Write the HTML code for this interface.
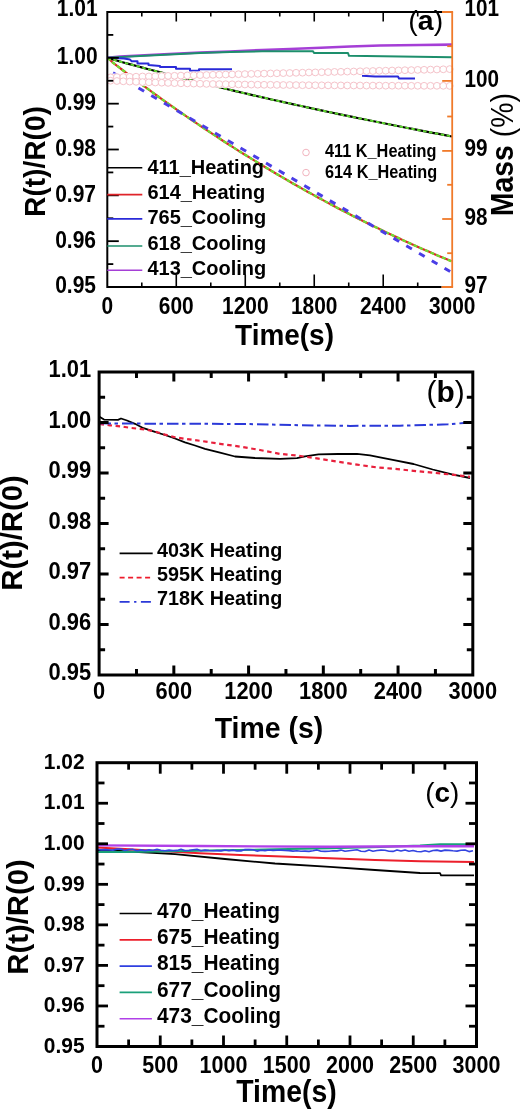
<!DOCTYPE html>
<html><head><meta charset="utf-8"><title>R(t)/R(0) vs Time</title>
<style>html,body{margin:0;padding:0;background:#fff;width:520px;height:1110px;overflow:hidden}svg{display:block}</style>
</head><body>
<svg width="520" height="1110" viewBox="0 0 520 1110" font-family='"Liberation Sans", Arial, Helvetica, sans-serif'>
<rect width="520" height="1110" fill="#fff"/>
<polyline points="107.5,57.8 120.0,56.5 169.0,54.0 200.0,52.5 230.0,51.5 262.0,50.0 290.0,49.0 321.0,47.8 350.0,46.5 380.0,45.5 420.0,45.0 452.0,44.6" fill="none" stroke="#a53fd6" stroke-width="2.6" stroke-linejoin="round" />
<polyline points="107.5,57.8 140.0,56.0 170.0,54.5 200.0,53.0 230.0,52.0 262.0,51.3 313.0,51.3 314.0,53.0 348.0,53.0 349.0,55.8 400.0,56.5 452.0,57.3" fill="none" stroke="#1d8f6c" stroke-width="2" stroke-linejoin="round" />
<polyline points="107.5,57.8 124.0,58.5 130.0,59.6 131.7,61.3 137.5,61.3 137.5,63.4 148.5,63.4 148.5,65.1 160.0,66.0 160.0,66.9 176.0,66.9 176.0,68.8 190.0,68.8 190.0,70.8 199.0,70.8 199.0,69.2 232.0,69.2" fill="none" stroke="#2a2ad8" stroke-width="2" stroke-linejoin="round" />
<polyline points="362.0,75.8 375.0,76.5 398.0,76.5 399.0,78.5 415.0,78.5" fill="none" stroke="#2a2ad8" stroke-width="2" stroke-linejoin="round" />
<polyline points="107.5,58.0 112.5,59.4 117.5,60.8 122.5,62.2 127.5,63.6 132.5,64.9 137.5,66.3 142.5,67.6 147.5,69.0 152.5,70.3 157.5,71.6 162.5,72.9 167.5,74.2 172.5,75.5 177.5,76.8 182.5,78.1 187.5,79.4 192.5,80.6 197.5,81.9 202.5,83.1 207.5,84.3 212.5,85.6 217.5,86.8 222.5,88.0 227.5,89.2 232.5,90.4 237.5,91.6 242.5,92.8 247.5,93.9 252.5,95.1 257.5,96.2 262.5,97.4 267.5,98.5 272.5,99.7 277.5,100.8 282.5,101.9 287.5,103.0 292.5,104.1 297.5,105.2 302.5,106.3 307.5,107.4 312.5,108.5 317.5,109.6 322.5,110.6 327.5,111.7 332.5,112.8 337.5,113.8 342.5,114.9 347.5,115.9 352.5,116.9 357.5,118.0 362.5,119.0 367.5,120.0 372.5,121.0 377.5,122.0 382.5,123.0 387.5,124.0 392.5,125.0 397.5,126.0 402.5,127.0 407.5,128.0 412.5,128.9 417.5,129.9 422.5,130.9 427.5,131.8 432.5,132.8 437.5,133.7 442.5,134.7 447.5,135.6 452.0,136.5" fill="none" stroke="#000" stroke-width="2.2" stroke-linejoin="round" />
<polyline points="107.5,58.0 112.5,59.4 117.5,60.8 122.5,62.2 127.5,63.6 132.5,64.9 137.5,66.3 142.5,67.6 147.5,69.0 152.5,70.3 157.5,71.6 162.5,72.9 167.5,74.2 172.5,75.5 177.5,76.8 182.5,78.1 187.5,79.4 192.5,80.6 197.5,81.9 202.5,83.1 207.5,84.3 212.5,85.6 217.5,86.8 222.5,88.0 227.5,89.2 232.5,90.4 237.5,91.6 242.5,92.8 247.5,93.9 252.5,95.1 257.5,96.2 262.5,97.4 267.5,98.5 272.5,99.7 277.5,100.8 282.5,101.9 287.5,103.0 292.5,104.1 297.5,105.2 302.5,106.3 307.5,107.4 312.5,108.5 317.5,109.6 322.5,110.6 327.5,111.7 332.5,112.8 337.5,113.8 342.5,114.9 347.5,115.9 352.5,116.9 357.5,118.0 362.5,119.0 367.5,120.0 372.5,121.0 377.5,122.0 382.5,123.0 387.5,124.0 392.5,125.0 397.5,126.0 402.5,127.0 407.5,128.0 412.5,128.9 417.5,129.9 422.5,130.9 427.5,131.8 432.5,132.8 437.5,133.7 442.5,134.7 447.5,135.6 452.0,136.5" fill="none" stroke="#5ed62e" stroke-width="2" stroke-linejoin="round" stroke-dasharray="3.5 2.5"/>
<polyline points="107.5,57.8 112.5,62.3 117.5,66.2 122.5,70.0 127.5,73.8 132.5,77.6 137.5,81.3 142.5,85.0 147.5,88.7 152.5,92.3 157.5,96.0 162.5,99.6 167.5,103.1 172.5,106.7 177.5,110.2 182.5,113.6 187.5,117.1 192.5,120.5 197.5,123.9 202.5,127.3 207.5,130.6 212.5,133.9 217.5,137.2 222.5,140.5 227.5,143.7 232.5,146.9 237.5,150.1 242.5,153.2 247.5,156.3 252.5,159.4 257.5,162.5 262.5,165.5 267.5,168.5 272.5,171.5 277.5,174.5 282.5,177.4 287.5,180.3 292.5,183.2 297.5,186.0 302.5,188.9 307.5,191.7 312.5,194.4 317.5,197.2 322.5,199.9 327.5,202.6 332.5,205.3 337.5,207.9 342.5,210.5 347.5,213.1 352.5,215.7 357.5,218.2 362.5,220.7 367.5,223.2 372.5,225.7 377.5,228.1 382.5,230.5 387.5,232.9 392.5,235.3 397.5,237.6 402.5,239.9 407.5,242.2 412.5,244.5 417.5,246.7 422.5,248.9 427.5,251.1 432.5,253.3 437.5,255.4 442.5,257.5 447.5,259.6 451.5,261.3" fill="none" stroke="#e0242a" stroke-width="2.2" stroke-linejoin="round" />
<polyline points="107.5,57.8 112.5,62.3 117.5,66.2 122.5,70.0 127.5,73.8 132.5,77.6 137.5,81.3 142.5,85.0 147.5,88.7 152.5,92.3 157.5,96.0 162.5,99.6 167.5,103.1 172.5,106.7 177.5,110.2 182.5,113.6 187.5,117.1 192.5,120.5 197.5,123.9 202.5,127.3 207.5,130.6 212.5,133.9 217.5,137.2 222.5,140.5 227.5,143.7 232.5,146.9 237.5,150.1 242.5,153.2 247.5,156.3 252.5,159.4 257.5,162.5 262.5,165.5 267.5,168.5 272.5,171.5 277.5,174.5 282.5,177.4 287.5,180.3 292.5,183.2 297.5,186.0 302.5,188.9 307.5,191.7 312.5,194.4 317.5,197.2 322.5,199.9 327.5,202.6 332.5,205.3 337.5,207.9 342.5,210.5 347.5,213.1 352.5,215.7 357.5,218.2 362.5,220.7 367.5,223.2 372.5,225.7 377.5,228.1 382.5,230.5 387.5,232.9 392.5,235.3 397.5,237.6 402.5,239.9 407.5,242.2 412.5,244.5 417.5,246.7 422.5,248.9 427.5,251.1 432.5,253.3 437.5,255.4 442.5,257.5 447.5,259.6 451.5,261.3" fill="none" stroke="#6ee030" stroke-width="2.2" stroke-linejoin="round" stroke-dasharray="4 2.2"/>
<line x1="113.00" y1="72.90" x2="452.00" y2="272.60" stroke="#4a3ee6" stroke-width="3" stroke-dasharray="6.5 8.3"/>
<polyline points="110.5,77.3 116.9,77.1 123.3,77.0 129.7,76.8 136.1,76.7 142.5,76.5 148.9,76.4 155.3,76.2 161.7,76.1 168.1,75.9 174.5,75.8 180.9,75.6 187.3,75.4 193.7,75.3 200.1,75.1 206.5,75.0 212.9,74.8 219.3,74.7 225.7,74.5 232.1,74.4 238.5,74.2 244.9,74.1 251.3,73.9 257.7,73.8 264.1,73.6 270.5,73.4 276.9,73.3 283.3,73.1 289.7,73.0 296.1,72.8 302.5,72.7 308.9,72.5 315.3,72.4 321.7,72.2 328.1,72.1 334.5,71.9 340.9,71.8 347.3,71.6 353.7,71.5 360.1,71.3 366.5,71.1 372.9,71.0 379.3,70.8 385.7,70.7 392.1,70.5 398.5,70.4 404.9,70.2 411.3,70.1 417.7,69.9 424.1,69.8 430.5,69.6 436.9,69.5 443.3,69.3 449.7,69.1" fill="none" stroke="#fff" stroke-width="7.3999999999999995" stroke-linejoin="round" stroke-linecap="round"/>
<polyline points="110.5,80.7 116.9,81.0 123.3,81.3 129.7,81.6 136.1,81.8 142.5,82.1 148.9,82.3 155.3,82.5 161.7,82.7 168.1,82.9 174.5,83.1 180.9,83.3 187.3,83.4 193.7,83.6 200.1,83.7 206.5,83.9 212.9,84.0 219.3,84.1 225.7,84.2 232.1,84.3 238.5,84.4 244.9,84.5 251.3,84.6 257.7,84.7 264.1,84.8 270.5,84.8 276.9,84.9 283.3,85.0 289.7,85.0 296.1,85.1 302.5,85.2 308.9,85.2 315.3,85.3 321.7,85.3 328.1,85.4 334.5,85.4 340.9,85.4 347.3,85.5 353.7,85.5 360.1,85.5 366.5,85.6 372.9,85.6 379.3,85.6 385.7,85.7 392.1,85.7 398.5,85.7 404.9,85.7 411.3,85.8 417.7,85.8 424.1,85.8 430.5,85.8 436.9,85.8 443.3,85.8 449.7,85.9" fill="none" stroke="#fff" stroke-width="7.3999999999999995" stroke-linejoin="round" stroke-linecap="round"/>
<circle cx="110.5" cy="77.3" r="3.4" fill="#fff" stroke="#f5c3ca" stroke-width="1"/>
<circle cx="110.5" cy="80.7" r="3.4" fill="#fff" stroke="#f5c3ca" stroke-width="1"/>
<circle cx="116.9" cy="77.1" r="3.4" fill="#fff" stroke="#f5c3ca" stroke-width="1"/>
<circle cx="116.9" cy="81.0" r="3.4" fill="#fff" stroke="#f5c3ca" stroke-width="1"/>
<circle cx="123.3" cy="77.0" r="3.4" fill="#fff" stroke="#f5c3ca" stroke-width="1"/>
<circle cx="123.3" cy="81.3" r="3.4" fill="#fff" stroke="#f5c3ca" stroke-width="1"/>
<circle cx="129.7" cy="76.8" r="3.4" fill="#fff" stroke="#f5c3ca" stroke-width="1"/>
<circle cx="129.7" cy="81.6" r="3.4" fill="#fff" stroke="#f5c3ca" stroke-width="1"/>
<circle cx="136.1" cy="76.7" r="3.4" fill="#fff" stroke="#f5c3ca" stroke-width="1"/>
<circle cx="136.1" cy="81.8" r="3.4" fill="#fff" stroke="#f5c3ca" stroke-width="1"/>
<circle cx="142.5" cy="76.5" r="3.4" fill="#fff" stroke="#f5c3ca" stroke-width="1"/>
<circle cx="142.5" cy="82.1" r="3.4" fill="#fff" stroke="#f5c3ca" stroke-width="1"/>
<circle cx="148.9" cy="76.4" r="3.4" fill="#fff" stroke="#f5c3ca" stroke-width="1"/>
<circle cx="148.9" cy="82.3" r="3.4" fill="#fff" stroke="#f5c3ca" stroke-width="1"/>
<circle cx="155.3" cy="76.2" r="3.4" fill="#fff" stroke="#f5c3ca" stroke-width="1"/>
<circle cx="155.3" cy="82.5" r="3.4" fill="#fff" stroke="#f5c3ca" stroke-width="1"/>
<circle cx="161.7" cy="76.1" r="3.4" fill="#fff" stroke="#f5c3ca" stroke-width="1"/>
<circle cx="161.7" cy="82.7" r="3.4" fill="#fff" stroke="#f5c3ca" stroke-width="1"/>
<circle cx="168.1" cy="75.9" r="3.4" fill="#fff" stroke="#f5c3ca" stroke-width="1"/>
<circle cx="168.1" cy="82.9" r="3.4" fill="#fff" stroke="#f5c3ca" stroke-width="1"/>
<circle cx="174.5" cy="75.8" r="3.4" fill="#fff" stroke="#f5c3ca" stroke-width="1"/>
<circle cx="174.5" cy="83.1" r="3.4" fill="#fff" stroke="#f5c3ca" stroke-width="1"/>
<circle cx="180.9" cy="75.6" r="3.4" fill="#fff" stroke="#f5c3ca" stroke-width="1"/>
<circle cx="180.9" cy="83.3" r="3.4" fill="#fff" stroke="#f5c3ca" stroke-width="1"/>
<circle cx="187.3" cy="75.4" r="3.4" fill="#fff" stroke="#f5c3ca" stroke-width="1"/>
<circle cx="187.3" cy="83.4" r="3.4" fill="#fff" stroke="#f5c3ca" stroke-width="1"/>
<circle cx="193.7" cy="75.3" r="3.4" fill="#fff" stroke="#f5c3ca" stroke-width="1"/>
<circle cx="193.7" cy="83.6" r="3.4" fill="#fff" stroke="#f5c3ca" stroke-width="1"/>
<circle cx="200.1" cy="75.1" r="3.4" fill="#fff" stroke="#f5c3ca" stroke-width="1"/>
<circle cx="200.1" cy="83.7" r="3.4" fill="#fff" stroke="#f5c3ca" stroke-width="1"/>
<circle cx="206.5" cy="75.0" r="3.4" fill="#fff" stroke="#f5c3ca" stroke-width="1"/>
<circle cx="206.5" cy="83.9" r="3.4" fill="#fff" stroke="#f5c3ca" stroke-width="1"/>
<circle cx="212.9" cy="74.8" r="3.4" fill="#fff" stroke="#f5c3ca" stroke-width="1"/>
<circle cx="212.9" cy="84.0" r="3.4" fill="#fff" stroke="#f5c3ca" stroke-width="1"/>
<circle cx="219.3" cy="74.7" r="3.4" fill="#fff" stroke="#f5c3ca" stroke-width="1"/>
<circle cx="219.3" cy="84.1" r="3.4" fill="#fff" stroke="#f5c3ca" stroke-width="1"/>
<circle cx="225.7" cy="74.5" r="3.4" fill="#fff" stroke="#f5c3ca" stroke-width="1"/>
<circle cx="225.7" cy="84.2" r="3.4" fill="#fff" stroke="#f5c3ca" stroke-width="1"/>
<circle cx="232.1" cy="74.4" r="3.4" fill="#fff" stroke="#f5c3ca" stroke-width="1"/>
<circle cx="232.1" cy="84.3" r="3.4" fill="#fff" stroke="#f5c3ca" stroke-width="1"/>
<circle cx="238.5" cy="74.2" r="3.4" fill="#fff" stroke="#f5c3ca" stroke-width="1"/>
<circle cx="238.5" cy="84.4" r="3.4" fill="#fff" stroke="#f5c3ca" stroke-width="1"/>
<circle cx="244.9" cy="74.1" r="3.4" fill="#fff" stroke="#f5c3ca" stroke-width="1"/>
<circle cx="244.9" cy="84.5" r="3.4" fill="#fff" stroke="#f5c3ca" stroke-width="1"/>
<circle cx="251.3" cy="73.9" r="3.4" fill="#fff" stroke="#f5c3ca" stroke-width="1"/>
<circle cx="251.3" cy="84.6" r="3.4" fill="#fff" stroke="#f5c3ca" stroke-width="1"/>
<circle cx="257.7" cy="73.8" r="3.4" fill="#fff" stroke="#f5c3ca" stroke-width="1"/>
<circle cx="257.7" cy="84.7" r="3.4" fill="#fff" stroke="#f5c3ca" stroke-width="1"/>
<circle cx="264.1" cy="73.6" r="3.4" fill="#fff" stroke="#f5c3ca" stroke-width="1"/>
<circle cx="264.1" cy="84.8" r="3.4" fill="#fff" stroke="#f5c3ca" stroke-width="1"/>
<circle cx="270.5" cy="73.4" r="3.4" fill="#fff" stroke="#f5c3ca" stroke-width="1"/>
<circle cx="270.5" cy="84.8" r="3.4" fill="#fff" stroke="#f5c3ca" stroke-width="1"/>
<circle cx="276.9" cy="73.3" r="3.4" fill="#fff" stroke="#f5c3ca" stroke-width="1"/>
<circle cx="276.9" cy="84.9" r="3.4" fill="#fff" stroke="#f5c3ca" stroke-width="1"/>
<circle cx="283.3" cy="73.1" r="3.4" fill="#fff" stroke="#f5c3ca" stroke-width="1"/>
<circle cx="283.3" cy="85.0" r="3.4" fill="#fff" stroke="#f5c3ca" stroke-width="1"/>
<circle cx="289.7" cy="73.0" r="3.4" fill="#fff" stroke="#f5c3ca" stroke-width="1"/>
<circle cx="289.7" cy="85.0" r="3.4" fill="#fff" stroke="#f5c3ca" stroke-width="1"/>
<circle cx="296.1" cy="72.8" r="3.4" fill="#fff" stroke="#f5c3ca" stroke-width="1"/>
<circle cx="296.1" cy="85.1" r="3.4" fill="#fff" stroke="#f5c3ca" stroke-width="1"/>
<circle cx="302.5" cy="72.7" r="3.4" fill="#fff" stroke="#f5c3ca" stroke-width="1"/>
<circle cx="302.5" cy="85.2" r="3.4" fill="#fff" stroke="#f5c3ca" stroke-width="1"/>
<circle cx="308.9" cy="72.5" r="3.4" fill="#fff" stroke="#f5c3ca" stroke-width="1"/>
<circle cx="308.9" cy="85.2" r="3.4" fill="#fff" stroke="#f5c3ca" stroke-width="1"/>
<circle cx="315.3" cy="72.4" r="3.4" fill="#fff" stroke="#f5c3ca" stroke-width="1"/>
<circle cx="315.3" cy="85.3" r="3.4" fill="#fff" stroke="#f5c3ca" stroke-width="1"/>
<circle cx="321.7" cy="72.2" r="3.4" fill="#fff" stroke="#f5c3ca" stroke-width="1"/>
<circle cx="321.7" cy="85.3" r="3.4" fill="#fff" stroke="#f5c3ca" stroke-width="1"/>
<circle cx="328.1" cy="72.1" r="3.4" fill="#fff" stroke="#f5c3ca" stroke-width="1"/>
<circle cx="328.1" cy="85.4" r="3.4" fill="#fff" stroke="#f5c3ca" stroke-width="1"/>
<circle cx="334.5" cy="71.9" r="3.4" fill="#fff" stroke="#f5c3ca" stroke-width="1"/>
<circle cx="334.5" cy="85.4" r="3.4" fill="#fff" stroke="#f5c3ca" stroke-width="1"/>
<circle cx="340.9" cy="71.8" r="3.4" fill="#fff" stroke="#f5c3ca" stroke-width="1"/>
<circle cx="340.9" cy="85.4" r="3.4" fill="#fff" stroke="#f5c3ca" stroke-width="1"/>
<circle cx="347.3" cy="71.6" r="3.4" fill="#fff" stroke="#f5c3ca" stroke-width="1"/>
<circle cx="347.3" cy="85.5" r="3.4" fill="#fff" stroke="#f5c3ca" stroke-width="1"/>
<circle cx="353.7" cy="71.5" r="3.4" fill="#fff" stroke="#f5c3ca" stroke-width="1"/>
<circle cx="353.7" cy="85.5" r="3.4" fill="#fff" stroke="#f5c3ca" stroke-width="1"/>
<circle cx="360.1" cy="71.3" r="3.4" fill="#fff" stroke="#f5c3ca" stroke-width="1"/>
<circle cx="360.1" cy="85.5" r="3.4" fill="#fff" stroke="#f5c3ca" stroke-width="1"/>
<circle cx="366.5" cy="71.1" r="3.4" fill="#fff" stroke="#f5c3ca" stroke-width="1"/>
<circle cx="366.5" cy="85.6" r="3.4" fill="#fff" stroke="#f5c3ca" stroke-width="1"/>
<circle cx="372.9" cy="71.0" r="3.4" fill="#fff" stroke="#f5c3ca" stroke-width="1"/>
<circle cx="372.9" cy="85.6" r="3.4" fill="#fff" stroke="#f5c3ca" stroke-width="1"/>
<circle cx="379.3" cy="70.8" r="3.4" fill="#fff" stroke="#f5c3ca" stroke-width="1"/>
<circle cx="379.3" cy="85.6" r="3.4" fill="#fff" stroke="#f5c3ca" stroke-width="1"/>
<circle cx="385.7" cy="70.7" r="3.4" fill="#fff" stroke="#f5c3ca" stroke-width="1"/>
<circle cx="385.7" cy="85.7" r="3.4" fill="#fff" stroke="#f5c3ca" stroke-width="1"/>
<circle cx="392.1" cy="70.5" r="3.4" fill="#fff" stroke="#f5c3ca" stroke-width="1"/>
<circle cx="392.1" cy="85.7" r="3.4" fill="#fff" stroke="#f5c3ca" stroke-width="1"/>
<circle cx="398.5" cy="70.4" r="3.4" fill="#fff" stroke="#f5c3ca" stroke-width="1"/>
<circle cx="398.5" cy="85.7" r="3.4" fill="#fff" stroke="#f5c3ca" stroke-width="1"/>
<circle cx="404.9" cy="70.2" r="3.4" fill="#fff" stroke="#f5c3ca" stroke-width="1"/>
<circle cx="404.9" cy="85.7" r="3.4" fill="#fff" stroke="#f5c3ca" stroke-width="1"/>
<circle cx="411.3" cy="70.1" r="3.4" fill="#fff" stroke="#f5c3ca" stroke-width="1"/>
<circle cx="411.3" cy="85.8" r="3.4" fill="#fff" stroke="#f5c3ca" stroke-width="1"/>
<circle cx="417.7" cy="69.9" r="3.4" fill="#fff" stroke="#f5c3ca" stroke-width="1"/>
<circle cx="417.7" cy="85.8" r="3.4" fill="#fff" stroke="#f5c3ca" stroke-width="1"/>
<circle cx="424.1" cy="69.8" r="3.4" fill="#fff" stroke="#f5c3ca" stroke-width="1"/>
<circle cx="424.1" cy="85.8" r="3.4" fill="#fff" stroke="#f5c3ca" stroke-width="1"/>
<circle cx="430.5" cy="69.6" r="3.4" fill="#fff" stroke="#f5c3ca" stroke-width="1"/>
<circle cx="430.5" cy="85.8" r="3.4" fill="#fff" stroke="#f5c3ca" stroke-width="1"/>
<circle cx="436.9" cy="69.5" r="3.4" fill="#fff" stroke="#f5c3ca" stroke-width="1"/>
<circle cx="436.9" cy="85.8" r="3.4" fill="#fff" stroke="#f5c3ca" stroke-width="1"/>
<circle cx="443.3" cy="69.3" r="3.4" fill="#fff" stroke="#f5c3ca" stroke-width="1"/>
<circle cx="443.3" cy="85.8" r="3.4" fill="#fff" stroke="#f5c3ca" stroke-width="1"/>
<circle cx="449.7" cy="69.1" r="3.4" fill="#fff" stroke="#f5c3ca" stroke-width="1"/>
<circle cx="449.7" cy="85.9" r="3.4" fill="#fff" stroke="#f5c3ca" stroke-width="1"/>
<line x1="107.30" y1="11.00" x2="107.30" y2="288.00" stroke="#000" stroke-width="2" />
<line x1="107.30" y1="287.00" x2="441.60" y2="287.00" stroke="#000" stroke-width="2" />
<line x1="441.60" y1="287.00" x2="453.10" y2="287.00" stroke="#f07a2a" stroke-width="2" />
<line x1="107.30" y1="12.00" x2="442.00" y2="12.00" stroke="#000" stroke-width="2" />
<line x1="442.00" y1="12.00" x2="453.10" y2="12.00" stroke="#f07a2a" stroke-width="2" />
<line x1="452.20" y1="12.00" x2="452.20" y2="287.00" stroke="#f07a2a" stroke-width="1.8" />
<line x1="141.79" y1="287.00" x2="141.79" y2="282.50" stroke="#000" stroke-width="1.6" />
<line x1="141.79" y1="12.00" x2="141.79" y2="16.50" stroke="#000" stroke-width="1.6" />
<line x1="176.28" y1="287.00" x2="176.28" y2="274.50" stroke="#000" stroke-width="1.6" />
<line x1="176.28" y1="12.00" x2="176.28" y2="21.50" stroke="#000" stroke-width="1.6" />
<line x1="210.77" y1="287.00" x2="210.77" y2="282.50" stroke="#000" stroke-width="1.6" />
<line x1="210.77" y1="12.00" x2="210.77" y2="16.50" stroke="#000" stroke-width="1.6" />
<line x1="245.26" y1="287.00" x2="245.26" y2="274.50" stroke="#000" stroke-width="1.6" />
<line x1="245.26" y1="12.00" x2="245.26" y2="21.50" stroke="#000" stroke-width="1.6" />
<line x1="279.75" y1="287.00" x2="279.75" y2="282.50" stroke="#000" stroke-width="1.6" />
<line x1="279.75" y1="12.00" x2="279.75" y2="16.50" stroke="#000" stroke-width="1.6" />
<line x1="314.24" y1="287.00" x2="314.24" y2="274.50" stroke="#000" stroke-width="1.6" />
<line x1="314.24" y1="12.00" x2="314.24" y2="21.50" stroke="#000" stroke-width="1.6" />
<line x1="348.73" y1="287.00" x2="348.73" y2="282.50" stroke="#000" stroke-width="1.6" />
<line x1="348.73" y1="12.00" x2="348.73" y2="16.50" stroke="#000" stroke-width="1.6" />
<line x1="383.22" y1="287.00" x2="383.22" y2="274.50" stroke="#000" stroke-width="1.6" />
<line x1="383.22" y1="12.00" x2="383.22" y2="21.50" stroke="#000" stroke-width="1.6" />
<line x1="417.71" y1="287.00" x2="417.71" y2="282.50" stroke="#000" stroke-width="1.6" />
<line x1="417.71" y1="12.00" x2="417.71" y2="16.50" stroke="#000" stroke-width="1.6" />
<line x1="107.30" y1="264.08" x2="113.30" y2="264.08" stroke="#000" stroke-width="1.8" />
<line x1="107.30" y1="241.17" x2="118.80" y2="241.17" stroke="#000" stroke-width="1.8" />
<line x1="107.30" y1="218.25" x2="113.30" y2="218.25" stroke="#000" stroke-width="1.8" />
<line x1="107.30" y1="195.33" x2="118.80" y2="195.33" stroke="#000" stroke-width="1.8" />
<line x1="107.30" y1="172.42" x2="113.30" y2="172.42" stroke="#000" stroke-width="1.8" />
<line x1="107.30" y1="149.50" x2="118.80" y2="149.50" stroke="#000" stroke-width="1.8" />
<line x1="107.30" y1="126.58" x2="113.30" y2="126.58" stroke="#000" stroke-width="1.8" />
<line x1="107.30" y1="103.67" x2="118.80" y2="103.67" stroke="#000" stroke-width="1.8" />
<line x1="107.30" y1="80.75" x2="113.30" y2="80.75" stroke="#000" stroke-width="1.8" />
<line x1="107.30" y1="57.83" x2="118.80" y2="57.83" stroke="#000" stroke-width="1.8" />
<line x1="107.30" y1="34.92" x2="113.30" y2="34.92" stroke="#000" stroke-width="1.8" />
<line x1="452.20" y1="253.20" x2="447.20" y2="253.20" stroke="#f07a2a" stroke-width="1.8" />
<line x1="452.20" y1="219.00" x2="442.20" y2="219.00" stroke="#f07a2a" stroke-width="1.8" />
<line x1="452.20" y1="184.80" x2="447.20" y2="184.80" stroke="#f07a2a" stroke-width="1.8" />
<line x1="452.20" y1="150.90" x2="442.20" y2="150.90" stroke="#f07a2a" stroke-width="1.8" />
<line x1="452.20" y1="116.50" x2="447.20" y2="116.50" stroke="#f07a2a" stroke-width="1.8" />
<line x1="452.20" y1="80.90" x2="442.20" y2="80.90" stroke="#f07a2a" stroke-width="1.8" />
<line x1="452.20" y1="46.20" x2="447.20" y2="46.20" stroke="#f07a2a" stroke-width="1.8" />
<text transform="translate(96.00,293.45) scale(0.913,1)" font-size="23" text-anchor="end" font-weight="bold" fill="#000">0.95</text>
<text transform="translate(96.00,247.62) scale(0.913,1)" font-size="23" text-anchor="end" font-weight="bold" fill="#000">0.96</text>
<text transform="translate(96.00,201.78) scale(0.913,1)" font-size="23" text-anchor="end" font-weight="bold" fill="#000">0.97</text>
<text transform="translate(96.00,155.95) scale(0.913,1)" font-size="23" text-anchor="end" font-weight="bold" fill="#000">0.98</text>
<text transform="translate(96.00,110.12) scale(0.913,1)" font-size="23" text-anchor="end" font-weight="bold" fill="#000">0.99</text>
<text transform="translate(97.60,64.28) scale(0.913,1)" font-size="23" text-anchor="end" font-weight="bold" fill="#000">1.00</text>
<text transform="translate(97.60,16.45) scale(0.913,1)" font-size="23" text-anchor="end" font-weight="bold" fill="#000">1.01</text>
<text transform="translate(107.30,314.10) scale(0.910,1)" font-size="23" text-anchor="middle" font-weight="bold" fill="#000">0</text>
<text transform="translate(176.28,314.10) scale(0.910,1)" font-size="23" text-anchor="middle" font-weight="bold" fill="#000">600</text>
<text transform="translate(245.26,314.10) scale(0.910,1)" font-size="23" text-anchor="middle" font-weight="bold" fill="#000">1200</text>
<text transform="translate(314.24,314.10) scale(0.910,1)" font-size="23" text-anchor="middle" font-weight="bold" fill="#000">1800</text>
<text transform="translate(383.22,314.10) scale(0.910,1)" font-size="23" text-anchor="middle" font-weight="bold" fill="#000">2400</text>
<text transform="translate(452.20,314.10) scale(0.910,1)" font-size="23" text-anchor="middle" font-weight="bold" fill="#000">3000</text>
<text transform="translate(464.60,293.45) scale(0.900,1)" font-size="23" text-anchor="start" font-weight="bold" fill="#000">97</text>
<text transform="translate(464.60,224.70) scale(0.900,1)" font-size="23" text-anchor="start" font-weight="bold" fill="#000">98</text>
<text transform="translate(464.60,155.95) scale(0.900,1)" font-size="23" text-anchor="start" font-weight="bold" fill="#000">99</text>
<text transform="translate(464.60,87.20) scale(0.900,1)" font-size="23" text-anchor="start" font-weight="bold" fill="#000">100</text>
<text transform="translate(464.60,16.45) scale(0.900,1)" font-size="23" text-anchor="start" font-weight="bold" fill="#000">101</text>
<text transform="translate(284.50,344.50) scale(0.954,1)" font-size="29.3" text-anchor="middle" font-weight="bold" fill="#000">Time(s)</text>
<text transform="translate(44.50,161.50) rotate(-90) scale(0.940,1)" font-size="29.9" text-anchor="middle" font-weight="bold" fill="#000">R(t)/R(0)</text>
<text transform="translate(513.30,154.60) rotate(-90) scale(0.920,1)" font-size="30.9" text-anchor="middle" font-weight="bold" fill="#000">Mass <tspan font-weight="normal">(%)</tspan></text>
<text transform="translate(425.75,29.70) scale(1.040,1)" font-size="27.4" text-anchor="middle" font-weight="bold" fill="#000"><tspan font-weight="normal">(</tspan>a<tspan font-weight="normal">)</tspan></text>
<line x1="107.30" y1="167.80" x2="142.30" y2="167.80" stroke="#000" stroke-width="1.6" />
<text transform="translate(147.40,173.50) scale(0.962,1)" font-size="20.8" text-anchor="start" font-weight="bold" fill="#000">411_Heating</text>
<line x1="107.30" y1="194.60" x2="142.30" y2="194.60" stroke="#e0242a" stroke-width="1.6" />
<text transform="translate(147.40,198.90) scale(0.962,1)" font-size="20.8" text-anchor="start" font-weight="bold" fill="#000">614_Heating</text>
<line x1="107.30" y1="218.90" x2="142.30" y2="218.90" stroke="#2a2ad8" stroke-width="1.6" />
<text transform="translate(147.40,224.30) scale(0.962,1)" font-size="20.8" text-anchor="start" font-weight="bold" fill="#000">765_Cooling</text>
<line x1="107.30" y1="246.00" x2="142.30" y2="246.00" stroke="#1d8f6c" stroke-width="1.6" />
<text transform="translate(147.40,249.70) scale(0.962,1)" font-size="20.8" text-anchor="start" font-weight="bold" fill="#000">618_Cooling</text>
<line x1="107.30" y1="270.30" x2="142.30" y2="270.30" stroke="#a53fd6" stroke-width="1.6" />
<text transform="translate(147.40,275.10) scale(0.962,1)" font-size="20.8" text-anchor="start" font-weight="bold" fill="#000">413_Cooling</text>
<circle cx="306" cy="152.5" r="3.3" fill="none" stroke="#f2b5bf" stroke-width="1"/>
<text transform="translate(325.00,156.80) scale(0.910,1)" font-size="17.9" text-anchor="start" font-weight="bold" fill="#000">411 K_Heating</text>
<circle cx="306" cy="172.6" r="3.3" fill="none" stroke="#f2b5bf" stroke-width="1"/>
<text transform="translate(325.00,177.50) scale(0.910,1)" font-size="17.9" text-anchor="start" font-weight="bold" fill="#000">614 K_Heating</text>
<polyline points="99.5,416.7 104.0,419.6 118.0,419.9 121.0,418.5 127.0,420.5 135.0,423.8 143.5,428.2 155.0,431.8 165.0,435.0 175.0,438.5 185.0,442.3 195.0,445.5 205.0,448.8 220.0,452.6 235.0,456.5 255.0,458.0 280.0,458.9 297.0,458.2 305.0,456.3 318.5,454.4 338.0,454.0 357.0,453.8 370.0,455.4 380.0,457.3 394.0,460.2 413.5,464.0 432.7,469.5 452.0,474.4 470.0,478.0" fill="none" stroke="#000" stroke-width="1.8" stroke-linejoin="round" />
<polyline points="99.5,424.0 110.0,425.3 125.0,427.0 131.5,428.0 144.0,429.3 155.0,431.5 165.0,434.6 175.0,437.3 185.0,438.8 200.0,440.8 220.0,443.8 240.0,446.6 260.0,450.0 280.0,453.9 299.0,455.8 318.5,458.6 338.0,461.7 357.0,464.6 376.0,467.3 394.0,468.8 413.5,470.8 432.7,472.7 452.0,474.6 470.0,476.8" fill="none" stroke="#e8203c" stroke-width="2.2" stroke-linejoin="round" stroke-dasharray="4.5 3.6"/>
<polyline points="99.5,423.3 150.0,423.7 200.0,423.8 250.0,424.1 300.0,425.2 350.0,425.9 400.0,425.7 425.0,425.0 448.0,424.3 464.0,423.0 471.0,422.8" fill="none" stroke="#2b39d8" stroke-width="2" stroke-linejoin="round" stroke-dasharray="11.5 3.5 3.5 4"/>
<rect x="99.1" y="372.0" width="373.70000000000005" height="303.0" fill="none" stroke="#000" stroke-width="3"/>
<line x1="136.47" y1="675.00" x2="136.47" y2="669.00" stroke="#000" stroke-width="3" />
<line x1="136.47" y1="372.00" x2="136.47" y2="378.00" stroke="#000" stroke-width="3" />
<line x1="173.84" y1="675.00" x2="173.84" y2="665.50" stroke="#000" stroke-width="3" />
<line x1="173.84" y1="372.00" x2="173.84" y2="381.50" stroke="#000" stroke-width="3" />
<line x1="211.21" y1="675.00" x2="211.21" y2="669.00" stroke="#000" stroke-width="3" />
<line x1="211.21" y1="372.00" x2="211.21" y2="378.00" stroke="#000" stroke-width="3" />
<line x1="248.58" y1="675.00" x2="248.58" y2="665.50" stroke="#000" stroke-width="3" />
<line x1="248.58" y1="372.00" x2="248.58" y2="381.50" stroke="#000" stroke-width="3" />
<line x1="285.95" y1="675.00" x2="285.95" y2="669.00" stroke="#000" stroke-width="3" />
<line x1="285.95" y1="372.00" x2="285.95" y2="378.00" stroke="#000" stroke-width="3" />
<line x1="323.32" y1="675.00" x2="323.32" y2="665.50" stroke="#000" stroke-width="3" />
<line x1="323.32" y1="372.00" x2="323.32" y2="381.50" stroke="#000" stroke-width="3" />
<line x1="360.69" y1="675.00" x2="360.69" y2="669.00" stroke="#000" stroke-width="3" />
<line x1="360.69" y1="372.00" x2="360.69" y2="378.00" stroke="#000" stroke-width="3" />
<line x1="398.06" y1="675.00" x2="398.06" y2="665.50" stroke="#000" stroke-width="3" />
<line x1="398.06" y1="372.00" x2="398.06" y2="381.50" stroke="#000" stroke-width="3" />
<line x1="435.43" y1="675.00" x2="435.43" y2="669.00" stroke="#000" stroke-width="3" />
<line x1="435.43" y1="372.00" x2="435.43" y2="378.00" stroke="#000" stroke-width="3" />
<line x1="99.10" y1="649.75" x2="105.10" y2="649.75" stroke="#000" stroke-width="3" />
<line x1="472.80" y1="649.75" x2="466.80" y2="649.75" stroke="#000" stroke-width="3" />
<line x1="99.10" y1="624.50" x2="108.60" y2="624.50" stroke="#000" stroke-width="3" />
<line x1="472.80" y1="624.50" x2="463.30" y2="624.50" stroke="#000" stroke-width="3" />
<line x1="99.10" y1="599.25" x2="105.10" y2="599.25" stroke="#000" stroke-width="3" />
<line x1="472.80" y1="599.25" x2="466.80" y2="599.25" stroke="#000" stroke-width="3" />
<line x1="99.10" y1="574.00" x2="108.60" y2="574.00" stroke="#000" stroke-width="3" />
<line x1="472.80" y1="574.00" x2="463.30" y2="574.00" stroke="#000" stroke-width="3" />
<line x1="99.10" y1="548.75" x2="105.10" y2="548.75" stroke="#000" stroke-width="3" />
<line x1="472.80" y1="548.75" x2="466.80" y2="548.75" stroke="#000" stroke-width="3" />
<line x1="99.10" y1="523.50" x2="108.60" y2="523.50" stroke="#000" stroke-width="3" />
<line x1="472.80" y1="523.50" x2="463.30" y2="523.50" stroke="#000" stroke-width="3" />
<line x1="99.10" y1="498.25" x2="105.10" y2="498.25" stroke="#000" stroke-width="3" />
<line x1="472.80" y1="498.25" x2="466.80" y2="498.25" stroke="#000" stroke-width="3" />
<line x1="99.10" y1="473.00" x2="108.60" y2="473.00" stroke="#000" stroke-width="3" />
<line x1="472.80" y1="473.00" x2="463.30" y2="473.00" stroke="#000" stroke-width="3" />
<line x1="99.10" y1="447.75" x2="105.10" y2="447.75" stroke="#000" stroke-width="3" />
<line x1="472.80" y1="447.75" x2="466.80" y2="447.75" stroke="#000" stroke-width="3" />
<line x1="99.10" y1="422.50" x2="108.60" y2="422.50" stroke="#000" stroke-width="3" />
<line x1="472.80" y1="422.50" x2="463.30" y2="422.50" stroke="#000" stroke-width="3" />
<line x1="99.10" y1="397.25" x2="105.10" y2="397.25" stroke="#000" stroke-width="3" />
<line x1="472.80" y1="397.25" x2="466.80" y2="397.25" stroke="#000" stroke-width="3" />
<text transform="translate(91.20,680.10) scale(0.933,1)" font-size="23.5" text-anchor="end" font-weight="bold" fill="#000">0.95</text>
<text transform="translate(91.20,629.60) scale(0.933,1)" font-size="23.5" text-anchor="end" font-weight="bold" fill="#000">0.96</text>
<text transform="translate(91.20,579.10) scale(0.933,1)" font-size="23.5" text-anchor="end" font-weight="bold" fill="#000">0.97</text>
<text transform="translate(91.20,528.60) scale(0.933,1)" font-size="23.5" text-anchor="end" font-weight="bold" fill="#000">0.98</text>
<text transform="translate(91.20,478.10) scale(0.933,1)" font-size="23.5" text-anchor="end" font-weight="bold" fill="#000">0.99</text>
<text transform="translate(91.20,427.60) scale(0.933,1)" font-size="23.5" text-anchor="end" font-weight="bold" fill="#000">1.00</text>
<text transform="translate(91.20,377.10) scale(0.933,1)" font-size="23.5" text-anchor="end" font-weight="bold" fill="#000">1.01</text>
<text transform="translate(99.10,699.00) scale(0.950,1)" font-size="23" text-anchor="middle" font-weight="bold" fill="#000">0</text>
<text transform="translate(173.84,699.00) scale(0.950,1)" font-size="23" text-anchor="middle" font-weight="bold" fill="#000">600</text>
<text transform="translate(248.58,699.00) scale(0.950,1)" font-size="23" text-anchor="middle" font-weight="bold" fill="#000">1200</text>
<text transform="translate(323.32,699.00) scale(0.950,1)" font-size="23" text-anchor="middle" font-weight="bold" fill="#000">1800</text>
<text transform="translate(398.06,699.00) scale(0.950,1)" font-size="23" text-anchor="middle" font-weight="bold" fill="#000">2400</text>
<text transform="translate(472.80,699.00) scale(0.950,1)" font-size="23" text-anchor="middle" font-weight="bold" fill="#000">3000</text>
<text transform="translate(269.00,738.30) scale(0.950,1)" font-size="30" text-anchor="middle" font-weight="bold" fill="#000">Time (s)</text>
<text transform="translate(22.20,533.00) rotate(-90) scale(0.967,1)" font-size="30.3" text-anchor="middle" font-weight="bold" fill="#000">R(t)/R(0)</text>
<text transform="translate(445.60,402.40) scale(1.030,1)" font-size="29" text-anchor="middle" font-weight="bold" fill="#000"><tspan font-weight="normal">(</tspan>b<tspan font-weight="normal">)</tspan></text>
<line x1="119.60" y1="553.40" x2="152.70" y2="553.40" stroke="#000" stroke-width="1.8" />
<text transform="translate(157.00,557.20) scale(0.965,1)" font-size="20.5" text-anchor="start" font-weight="bold" fill="#000">403K Heating</text>
<line x1="119.60" y1="577.70" x2="152.70" y2="577.70" stroke="#ee1c2c" stroke-width="1.8" stroke-dasharray="5 3.5"/>
<text transform="translate(157.00,581.30) scale(0.965,1)" font-size="20.5" text-anchor="start" font-weight="bold" fill="#000">595K Heating</text>
<line x1="119.60" y1="601.80" x2="152.70" y2="601.80" stroke="#2b39d8" stroke-width="1.8" stroke-dasharray="10 4.5 2.3 4.5"/>
<text transform="translate(157.00,605.20) scale(0.965,1)" font-size="20.5" text-anchor="start" font-weight="bold" fill="#000">718K Heating</text>
<polyline points="97.0,850.0 130.0,851.5 175.0,854.2 225.0,859.0 275.0,863.5 330.0,866.8 375.0,870.0 420.0,873.0 440.0,873.2 441.0,875.4 474.0,875.4" fill="none" stroke="#000" stroke-width="1.8" stroke-linejoin="round" />
<polyline points="97.0,847.5 125.0,849.0 150.0,850.5 200.0,853.3 240.0,855.0 275.0,856.3 330.0,858.3 375.0,860.0 420.0,861.3 474.0,862.0" fill="none" stroke="#ec1f2b" stroke-width="2" stroke-linejoin="round" />
<polyline points="97.0,852.0 130.0,852.0 175.0,851.3 220.0,850.3 275.0,849.3 330.0,848.3 380.0,847.0 420.0,845.5 440.0,844.3 474.0,844.2" fill="none" stroke="#1aa07a" stroke-width="2" stroke-linejoin="round" />
<polyline points="97.0,849.3 101.0,849.9 105.0,849.6 109.0,850.0 113.0,850.1 117.0,849.1 121.0,849.0 125.0,850.5 129.0,849.5 133.0,849.4 137.0,850.8 141.0,849.9 145.0,850.6 149.0,849.9 153.0,850.2 157.0,849.4 161.0,850.2 165.0,850.7 169.0,850.1 173.0,850.5 177.0,850.4 181.0,849.3 185.0,850.5 189.0,850.3 193.0,849.7 197.0,849.3 201.0,850.8 205.0,850.1 209.0,850.5 213.0,850.8 217.0,850.6 221.0,850.9 225.0,850.0 229.0,850.8 233.0,850.1 237.0,851.0 241.0,850.9 245.0,849.5 249.0,849.6 253.0,849.8 257.0,851.1 261.0,850.2 265.0,850.6 269.0,850.0 273.0,850.4 277.0,850.2 281.0,850.1 285.0,850.5 289.0,850.6 293.0,851.1 297.0,850.8 301.0,851.2 305.0,851.1 309.0,851.4 313.0,850.8 317.0,849.9 321.0,851.2 325.0,851.4 329.0,851.3 333.0,850.7 337.0,850.9 341.0,850.1 345.0,851.2 349.0,850.7 353.0,850.2 357.0,849.8 361.0,851.3 365.0,851.5 369.0,849.9 373.0,851.2 377.0,850.5 381.0,850.1 385.0,850.3 389.0,851.2 393.0,851.4 397.0,849.9 401.0,851.0 405.0,850.0 409.0,851.2 413.0,850.5 417.0,851.5 421.0,851.7 425.0,850.8 429.0,851.7 433.0,850.5 437.0,850.1 441.0,851.1 445.0,850.1 449.0,850.4 453.0,850.8 457.0,851.1 461.0,850.3 465.0,850.1 469.0,851.6 473.0,850.7" fill="none" stroke="#3344e0" stroke-width="1.6" stroke-linejoin="round" />
<polyline points="97.0,845.4 200.0,846.0 330.0,846.8 420.0,846.3 474.0,846.2" fill="none" stroke="#b040e8" stroke-width="2.4" stroke-linejoin="round" />
<rect x="97.0" y="762.7" width="379.5" height="283.79999999999995" fill="none" stroke="#000" stroke-width="3"/>
<line x1="128.62" y1="1046.50" x2="128.62" y2="1039.50" stroke="#000" stroke-width="2.8" />
<line x1="128.62" y1="762.70" x2="128.62" y2="769.70" stroke="#000" stroke-width="2.8" />
<line x1="160.25" y1="1046.50" x2="160.25" y2="1035.50" stroke="#000" stroke-width="2.8" />
<line x1="160.25" y1="762.70" x2="160.25" y2="773.70" stroke="#000" stroke-width="2.8" />
<line x1="191.88" y1="1046.50" x2="191.88" y2="1039.50" stroke="#000" stroke-width="2.8" />
<line x1="191.88" y1="762.70" x2="191.88" y2="769.70" stroke="#000" stroke-width="2.8" />
<line x1="223.50" y1="1046.50" x2="223.50" y2="1035.50" stroke="#000" stroke-width="2.8" />
<line x1="223.50" y1="762.70" x2="223.50" y2="773.70" stroke="#000" stroke-width="2.8" />
<line x1="255.12" y1="1046.50" x2="255.12" y2="1039.50" stroke="#000" stroke-width="2.8" />
<line x1="255.12" y1="762.70" x2="255.12" y2="769.70" stroke="#000" stroke-width="2.8" />
<line x1="286.75" y1="1046.50" x2="286.75" y2="1035.50" stroke="#000" stroke-width="2.8" />
<line x1="286.75" y1="762.70" x2="286.75" y2="773.70" stroke="#000" stroke-width="2.8" />
<line x1="318.38" y1="1046.50" x2="318.38" y2="1039.50" stroke="#000" stroke-width="2.8" />
<line x1="318.38" y1="762.70" x2="318.38" y2="769.70" stroke="#000" stroke-width="2.8" />
<line x1="350.00" y1="1046.50" x2="350.00" y2="1035.50" stroke="#000" stroke-width="2.8" />
<line x1="350.00" y1="762.70" x2="350.00" y2="773.70" stroke="#000" stroke-width="2.8" />
<line x1="381.62" y1="1046.50" x2="381.62" y2="1039.50" stroke="#000" stroke-width="2.8" />
<line x1="381.62" y1="762.70" x2="381.62" y2="769.70" stroke="#000" stroke-width="2.8" />
<line x1="413.25" y1="1046.50" x2="413.25" y2="1035.50" stroke="#000" stroke-width="2.8" />
<line x1="413.25" y1="762.70" x2="413.25" y2="773.70" stroke="#000" stroke-width="2.8" />
<line x1="444.88" y1="1046.50" x2="444.88" y2="1039.50" stroke="#000" stroke-width="2.8" />
<line x1="444.88" y1="762.70" x2="444.88" y2="769.70" stroke="#000" stroke-width="2.8" />
<line x1="97.00" y1="1026.23" x2="104.50" y2="1026.23" stroke="#000" stroke-width="2.8" />
<line x1="476.50" y1="1026.23" x2="469.00" y2="1026.23" stroke="#000" stroke-width="2.8" />
<line x1="97.00" y1="1005.96" x2="108.00" y2="1005.96" stroke="#000" stroke-width="2.8" />
<line x1="476.50" y1="1005.96" x2="465.50" y2="1005.96" stroke="#000" stroke-width="2.8" />
<line x1="97.00" y1="985.69" x2="104.50" y2="985.69" stroke="#000" stroke-width="2.8" />
<line x1="476.50" y1="985.69" x2="469.00" y2="985.69" stroke="#000" stroke-width="2.8" />
<line x1="97.00" y1="965.41" x2="108.00" y2="965.41" stroke="#000" stroke-width="2.8" />
<line x1="476.50" y1="965.41" x2="465.50" y2="965.41" stroke="#000" stroke-width="2.8" />
<line x1="97.00" y1="945.14" x2="104.50" y2="945.14" stroke="#000" stroke-width="2.8" />
<line x1="476.50" y1="945.14" x2="469.00" y2="945.14" stroke="#000" stroke-width="2.8" />
<line x1="97.00" y1="924.87" x2="108.00" y2="924.87" stroke="#000" stroke-width="2.8" />
<line x1="476.50" y1="924.87" x2="465.50" y2="924.87" stroke="#000" stroke-width="2.8" />
<line x1="97.00" y1="904.60" x2="104.50" y2="904.60" stroke="#000" stroke-width="2.8" />
<line x1="476.50" y1="904.60" x2="469.00" y2="904.60" stroke="#000" stroke-width="2.8" />
<line x1="97.00" y1="884.33" x2="108.00" y2="884.33" stroke="#000" stroke-width="2.8" />
<line x1="476.50" y1="884.33" x2="465.50" y2="884.33" stroke="#000" stroke-width="2.8" />
<line x1="97.00" y1="864.06" x2="104.50" y2="864.06" stroke="#000" stroke-width="2.8" />
<line x1="476.50" y1="864.06" x2="469.00" y2="864.06" stroke="#000" stroke-width="2.8" />
<line x1="97.00" y1="843.79" x2="108.00" y2="843.79" stroke="#000" stroke-width="2.8" />
<line x1="476.50" y1="843.79" x2="465.50" y2="843.79" stroke="#000" stroke-width="2.8" />
<line x1="97.00" y1="823.51" x2="104.50" y2="823.51" stroke="#000" stroke-width="2.8" />
<line x1="476.50" y1="823.51" x2="469.00" y2="823.51" stroke="#000" stroke-width="2.8" />
<line x1="97.00" y1="803.24" x2="108.00" y2="803.24" stroke="#000" stroke-width="2.8" />
<line x1="476.50" y1="803.24" x2="465.50" y2="803.24" stroke="#000" stroke-width="2.8" />
<line x1="97.00" y1="782.97" x2="104.50" y2="782.97" stroke="#000" stroke-width="2.8" />
<line x1="476.50" y1="782.97" x2="469.00" y2="782.97" stroke="#000" stroke-width="2.8" />
<text transform="translate(84.60,1052.75) scale(0.927,1)" font-size="22.6" text-anchor="end" font-weight="bold" fill="#000">0.95</text>
<text transform="translate(84.60,1012.21) scale(0.927,1)" font-size="22.6" text-anchor="end" font-weight="bold" fill="#000">0.96</text>
<text transform="translate(84.60,971.66) scale(0.927,1)" font-size="22.6" text-anchor="end" font-weight="bold" fill="#000">0.97</text>
<text transform="translate(84.60,931.12) scale(0.927,1)" font-size="22.6" text-anchor="end" font-weight="bold" fill="#000">0.98</text>
<text transform="translate(84.60,890.58) scale(0.927,1)" font-size="22.6" text-anchor="end" font-weight="bold" fill="#000">0.99</text>
<text transform="translate(84.60,850.04) scale(0.927,1)" font-size="22.6" text-anchor="end" font-weight="bold" fill="#000">1.00</text>
<text transform="translate(84.60,809.49) scale(0.927,1)" font-size="22.6" text-anchor="end" font-weight="bold" fill="#000">1.01</text>
<text transform="translate(84.60,768.95) scale(0.927,1)" font-size="22.6" text-anchor="end" font-weight="bold" fill="#000">1.02</text>
<text transform="translate(97.00,1073.20) scale(0.923,1)" font-size="23.3" text-anchor="middle" font-weight="bold" fill="#000">0</text>
<text transform="translate(160.25,1073.20) scale(0.923,1)" font-size="23.3" text-anchor="middle" font-weight="bold" fill="#000">500</text>
<text transform="translate(223.50,1073.20) scale(0.923,1)" font-size="23.3" text-anchor="middle" font-weight="bold" fill="#000">1000</text>
<text transform="translate(286.75,1073.20) scale(0.923,1)" font-size="23.3" text-anchor="middle" font-weight="bold" fill="#000">1500</text>
<text transform="translate(350.00,1073.20) scale(0.923,1)" font-size="23.3" text-anchor="middle" font-weight="bold" fill="#000">2000</text>
<text transform="translate(413.25,1073.20) scale(0.923,1)" font-size="23.3" text-anchor="middle" font-weight="bold" fill="#000">2500</text>
<text transform="translate(476.50,1073.20) scale(0.923,1)" font-size="23.3" text-anchor="middle" font-weight="bold" fill="#000">3000</text>
<text transform="translate(286.50,1101.90) scale(0.920,1)" font-size="30.9" text-anchor="middle" font-weight="bold" fill="#000">Time(s)</text>
<text transform="translate(27.90,917.00) rotate(-90) scale(0.967,1)" font-size="30.3" text-anchor="middle" font-weight="bold" fill="#000">R(t)/R(0)</text>
<text transform="translate(442.25,801.60)" font-size="27.9" text-anchor="middle" font-weight="bold" fill="#000"><tspan font-weight="normal">(</tspan>c<tspan font-weight="normal">)</tspan></text>
<line x1="119.60" y1="913.50" x2="151.90" y2="913.50" stroke="#000" stroke-width="1.6" />
<text transform="translate(157.00,917.60) scale(0.924,1)" font-size="22.6" text-anchor="start" font-weight="bold" fill="#000">470_Heating</text>
<line x1="119.60" y1="939.90" x2="151.90" y2="939.90" stroke="#ec1f2b" stroke-width="1.6" />
<text transform="translate(157.00,943.90) scale(0.924,1)" font-size="22.6" text-anchor="start" font-weight="bold" fill="#000">675_Heating</text>
<line x1="119.60" y1="966.10" x2="151.90" y2="966.10" stroke="#2f3fe0" stroke-width="1.6" />
<text transform="translate(157.00,970.20) scale(0.924,1)" font-size="22.6" text-anchor="start" font-weight="bold" fill="#000">815_Heating</text>
<line x1="119.60" y1="992.40" x2="151.90" y2="992.40" stroke="#1aa07a" stroke-width="1.6" />
<text transform="translate(157.00,996.50) scale(0.924,1)" font-size="22.6" text-anchor="start" font-weight="bold" fill="#000">677_Cooling</text>
<line x1="119.60" y1="1018.70" x2="151.90" y2="1018.70" stroke="#b040e8" stroke-width="1.6" />
<text transform="translate(157.00,1022.80) scale(0.924,1)" font-size="22.6" text-anchor="start" font-weight="bold" fill="#000">473_Cooling</text>
</svg>
</body></html>
